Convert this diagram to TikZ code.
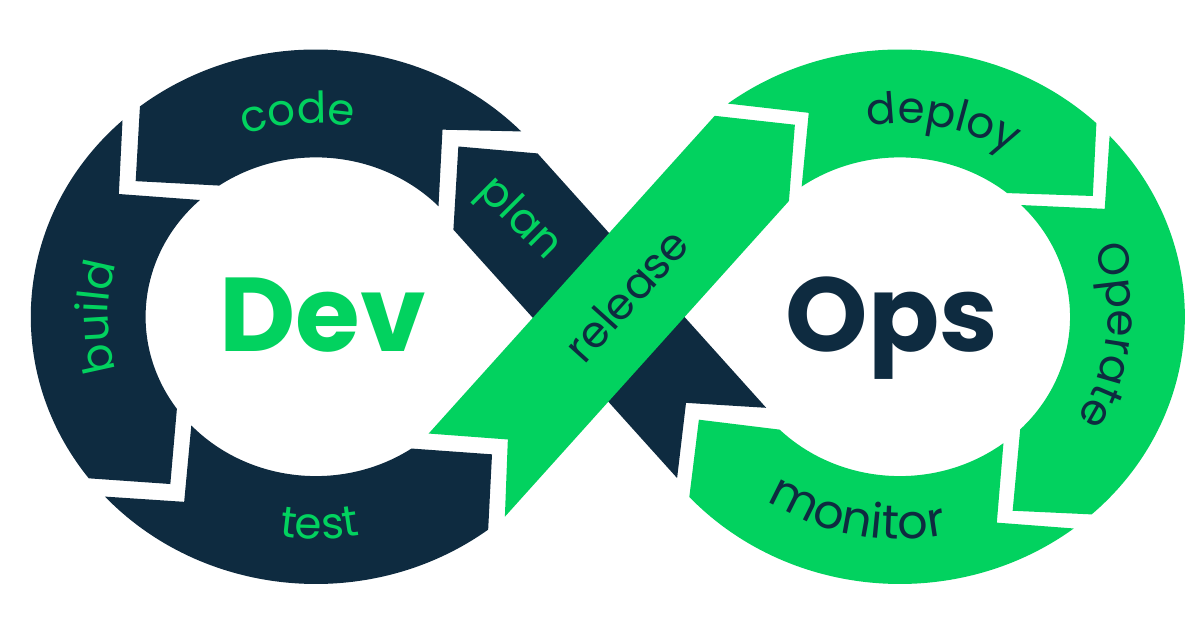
\documentclass[tikz,border=0pt]{standalone}
\usepackage{fontspec}
\setmainfont{Poppins}
\usetikzlibrary{calc,decorations.text}
\definecolor{loopNavy}{HTML}{0E2B40}
\definecolor{loopGreen}{HTML}{02D25F}
\newcommand\lblfont{\fontsize{44}{44}\selectfont}
\newcommand\bigfont{\fontsize{106}{106}\selectfont\bfseries}

\begin{document}
\begin{tikzpicture}[x=1pt,y=-1pt,line join=miter]
\path[fill=white] (0,0) rectangle (1200,630);
\coordinate (dev) at (315,320);
\coordinate (ops) at (905,320);
\tikzset{navyband/.style={fill=loopNavy},greenband/.style={fill=loopGreen},
  ringtext/.style={decorate,decoration={text along path,text align=center,text={#1}}}}
% Dev loop: code, build, test
\path[navyband] ($(dev)+(-128.1:288 and 270)$) -- (133,183) -- ($(dev)+(-124.6:172 and 161)$) arc[start angle=-124.6,end angle=-43.9,x radius=172,y radius=161] -- (443,131) -- ($(dev)+(-43.9:288 and 270)$) arc[start angle=-43.9,end angle=-128.1,x radius=288,y radius=270] -- cycle;
\path[navyband] ($(dev)+(227.3:288 and 270)$) -- (116,196) -- ($(dev)+(227.1:172 and 161)$) arc[start angle=227.1,end angle=144.7,x radius=172,y radius=161] -- (168,489) -- ($(dev)+(142.8:288 and 270)$) arc[start angle=142.8,end angle=227.3,x radius=288,y radius=270] -- cycle;
\path[navyband] ($(dev)+(137.7:288 and 270)$) -- (182,507) -- ($(dev)+(137:172 and 161)$) arc[start angle=137,end angle=55.8,x radius=172,y radius=161] -- (493,459) -- ($(dev)+(52.8:288 and 270)$) arc[start angle=52.8,end angle=137.7,x radius=288,y radius=270] -- cycle;
% Ops loop: deploy, operate, monitor
\path[greenband] ($(ops)+(-127.1:288 and 270)$) -- (813,114) -- ($(ops)+(-125.2:172 and 161)$) arc[start angle=-125.2,end angle=-50.9,x radius=172,y radius=161] -- (1100,198) -- ($(ops)+(-46.4:288 and 270)$) arc[start angle=-46.4,end angle=-127.1,x radius=288,y radius=270] -- cycle;
\path[greenband] ($(ops)+(-42.6:288 and 270)$) -- (1112,211) -- ($(ops)+(-44.5:172 and 161)$) arc[start angle=-44.5,end angle=45,x radius=172,y radius=161] -- (1019,516) -- ($(ops)+(47.7:288 and 270)$) arc[start angle=47.7,end angle=-42.6,x radius=288,y radius=270] -- cycle;
\path[greenband] ($(ops)+(52.4:288 and 270)$) -- (1003,528) -- ($(ops)+(52.5:172 and 161)$) arc[start angle=52.5,end angle=134.9,x radius=172,y radius=161] -- (702,424) -- ($(ops)+(137.6:288 and 270)$) arc[start angle=137.6,end angle=52.4,x radius=288,y radius=270] -- cycle;
% crossing ribbons
\path[navyband] (459,148) -- (539,155) -- (770,412) -- (689,407) -- (680,483) -- (454,232) -- cycle;
\path[greenband] (718,117) -- (799,126) -- (793,203) -- (506,522) -- (509,444) -- (429,438) -- cycle;
% labels
\path[ringtext={|\lblfont\color{loopGreen}|code}] ($(dev)+(-135:210 and 195.5)$) arc[start angle=-135,end angle=-55,x radius=210,y radius=195.5];
\path[ringtext={|\lblfont\color{loopGreen}|build}] ($(dev)+(135:210 and 195.5)$) arc[start angle=135,end angle=225,x radius=210,y radius=195.5];
\path[ringtext={|\lblfont\color{loopGreen}|test}] ($(dev)+(134:239 and 224.5)$) arc[start angle=134,end angle=44,x radius=239,y radius=224.5];
\path[ringtext={|\lblfont\color{loopNavy}|deploy}] ($(ops)+(-118:210 and 195.5)$) arc[start angle=-118,end angle=-38,x radius=210,y radius=195.5];
\path[ringtext={|\lblfont\color{loopNavy}|Operate}] ($(ops)+(-39.6:210 and 195.5)$) arc[start angle=-39.6,end angle=50.4,x radius=210,y radius=195.5];
\path[ringtext={|\fontsize{48}{48}\selectfont\color{loopNavy}|monitor}] ($(ops)+(146.6:239 and 224.5)$) arc[start angle=146.6,end angle=56.6,x radius=239,y radius=224.5];
\node[rotate=-45,text=loopGreen,font=\lblfont] (planlbl) at (520,222) {plan};
\node[rotate=48,text=loopNavy,font=\lblfont] (releaselbl) at (629,298) {release};
\node[anchor=base,text=loopGreen,font=\bigfont] (devword) at (322,355) {Dev};
\node[anchor=base,text=loopNavy,font=\bigfont] (opsword) at (897,355) {Ops};
\end{tikzpicture}
\end{document}
